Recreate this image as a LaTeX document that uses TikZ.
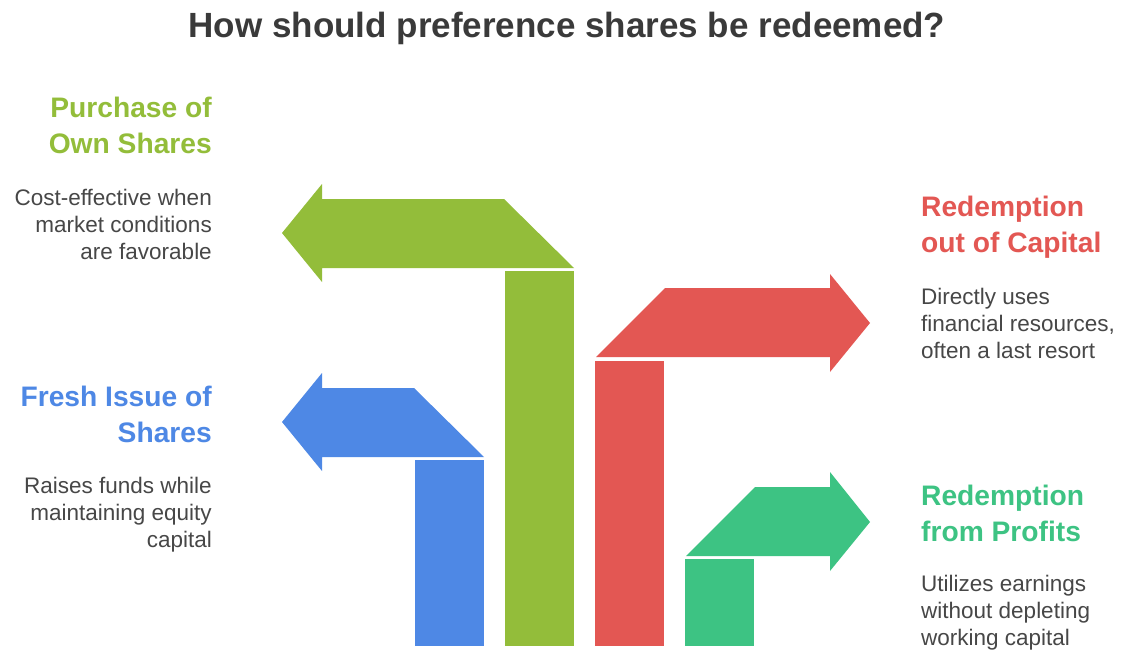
\documentclass[tikz,border=0pt]{standalone}
\usepackage{fontspec}
\setmainfont{Liberation Sans}
\definecolor{cgreen}{HTML}{93BD3A}
\definecolor{cblue}{HTML}{4E88E5}
\definecolor{cred}{HTML}{E35753}
\definecolor{cteal}{HTML}{3DC383}
\definecolor{ctitle}{HTML}{3A3A3A}
\definecolor{cdesc}{HTML}{474747}
\begin{document}
\begin{tikzpicture}[x=1pt,y=-1pt,
  headL/.style={inner sep=0pt,font=\fontsize{28.2}{36}\selectfont\bfseries},
  descL/.style={inner sep=0pt,text=cdesc,font=\fontsize{22.5}{27}\selectfont},
]
\useasboundingbox[fill=white] (0,0) rectangle (1138,669);
% title
\node[inner sep=0pt,text=ctitle,font=\fontsize{35}{40}\selectfont\bfseries] (title) at (567,28) {How should preference shares be redeemed?};
% green arrow (purchase)
\fill[cgreen] (282,233) -- (322,184) -- (322,199) -- (504,199) -- (574,268) -- (322,268) -- (322,282) -- cycle;
\fill[cgreen] (505,271) rectangle (574,646);
% blue arrow (fresh issue)
\fill[cblue] (282,422) -- (322,373) -- (322,388) -- (414,388) -- (484,457) -- (322,457) -- (322,471) -- cycle;
\fill[cblue] (415,460) rectangle (484,646);
% red arrow (capital)
\fill[cred] (596,357) -- (665,288) -- (830,288) -- (830,274) -- (870,323) -- (830,372) -- (830,357) -- cycle;
\fill[cred] (595,361) rectangle (664,646);
% teal arrow (profits)
\fill[cteal] (686,556) -- (755,487) -- (830,487) -- (830,472) -- (870,522) -- (830,571) -- (830,556) -- cycle;
\fill[cteal] (685,559) rectangle (754,646);
% texts left
\node[headL,text=cgreen,align=right,anchor=east] (h1) at (212,125) {Purchase of\\Own Shares};
\node[descL,align=right,anchor=east] (d1) at (212,224) {Cost-effective when\\market conditions\\are favorable};
\node[headL,text=cblue,align=right,anchor=east] (h2) at (212,414) {Fresh Issue of\\Shares};
\node[descL,align=right,anchor=east] (d2) at (212,515) {Raises funds while\\maintaining equity\\capital};
% texts right
\node[headL,text=cred,align=left,anchor=west] (h3) at (921,227) {Redemption\\out of Capital};
\node[descL,align=left,anchor=west] (d3) at (921,323) {Directly uses\\financial resources,\\often a last resort};
\node[headL,text=cteal,align=left,anchor=west] (h4) at (921,513) {Redemption\\from Profits};
\node[descL,align=left,anchor=west] (d4) at (921,613) {Utilizes earnings\\without depleting\\working capital};
\end{tikzpicture}
\end{document}
